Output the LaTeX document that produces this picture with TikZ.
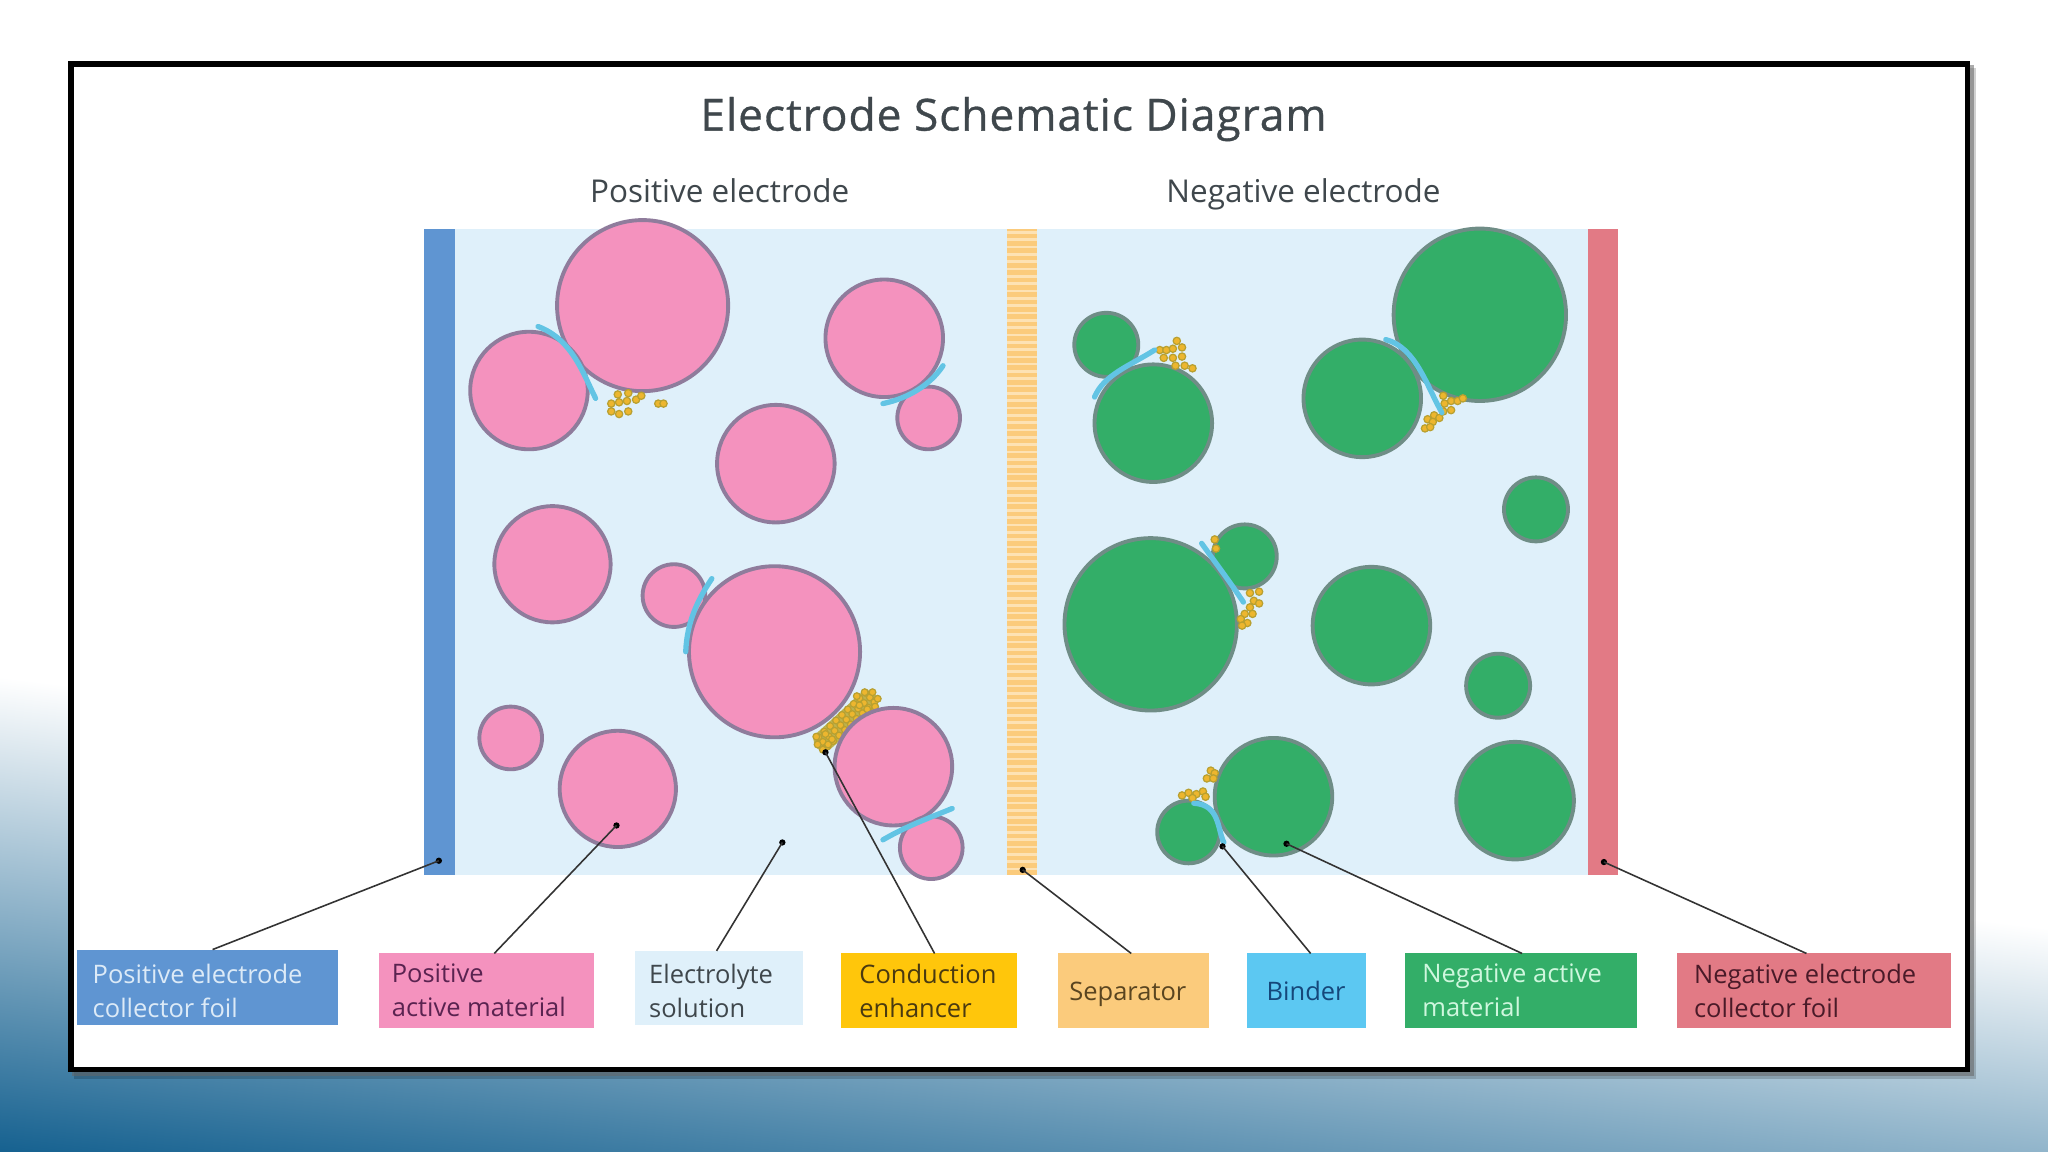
\documentclass[tikz,border=0pt]{standalone}
\usepackage{fontspec}
\setmainfont{Open Sans}
\newfontfamily\titlefont[LetterSpace=2.2,FakeBold=0.7]{Open Sans}
\definecolor{pinkfill}{HTML}{F492BE}
\definecolor{pinkedge}{HTML}{8F7C9C}
\definecolor{greenfill}{HTML}{33AE68}
\definecolor{greenedge}{HTML}{6F8D86}
\definecolor{bindercol}{HTML}{62C4E4}
\definecolor{goldfill}{HTML}{EDB62E}
\definecolor{goldedge}{HTML}{B8A030}
\definecolor{goldback}{HTML}{BDB24E}
\definecolor{liquid}{HTML}{DFF0FA}
\definecolor{sepcol}{HTML}{FBCB7C}
\definecolor{seppale}{HTML}{FDE2B4}
\definecolor{blueLab}{HTML}{5F95D2}
\definecolor{redLab}{HTML}{E27A85}
\definecolor{condLab}{HTML}{FFC60B}
\definecolor{bindLab}{HTML}{5CC8F2}
\definecolor{inkgray}{HTML}{3F474C}
\definecolor{deepblue}{HTML}{14608F}
\definecolor{midblue}{HTML}{85ACCA}
\definecolor{txBlue}{HTML}{DCEAF7}
\definecolor{txPink}{HTML}{5A2350}
\definecolor{txCondc}{HTML}{4A3A10}
\definecolor{txSepc}{HTML}{5A4520}
\definecolor{txBind}{HTML}{15477A}
\definecolor{txGreen}{HTML}{CFF7DE}
\definecolor{txRed}{HTML}{4A1A28}
\tikzset{
  pinkball/.style={draw=pinkedge,fill=pinkfill,line width=1.1pt},
  greenball/.style={draw=greenedge,fill=greenfill,line width=1.1pt},
  binderline/.style={draw=bindercol,line width=1.5pt,line cap=round},
  grain/.style={draw=goldedge,fill=goldfill,line width=0.35pt},
  leader/.style={draw=black!80,line width=0.45pt},
  dotmark/.style={fill=black,circle,inner sep=0pt,minimum size=1.8pt},
  lab/.style={anchor=north west,inner sep=0pt,outer sep=0pt,font=\fontsize{7.25}{9.6}\selectfont},
  header/.style={anchor=base,font=\fontsize{8.95}{10}\selectfont,text=inkgray},
}
\newcommand{\LabBox}[6]{% name, x0,y0,x1,y1, fill
  \node[anchor=north west,inner sep=0pt,outer sep=0pt,fill=#6,minimum width=#4*0.013061cm-#2*0.013061cm,minimum height=#5*0.013061cm-#3*0.013061cm] (#1) at (#2,#3) {};
}
\begin{document}
\begin{tikzpicture}[x=0.013061cm,y=-0.013061cm]
\useasboundingbox (0,0) rectangle (1568,882);
\fill[white] (0,0) rectangle (1568,882);
% background gradient
\begin{scope}
\clip (0,0) rectangle (1568,882);
\shade[transform canvas={rotate around={-7:(0,518)}},top color=white,middle color=midblue,bottom color=deepblue] (-200,518) rectangle (1800,882);
\end{scope}
% frame
\fill[black,opacity=.18] (57,52) rectangle (1513,826);
\fill[black!60,opacity=.55] (55,50) rectangle (1511,824);
\draw[black,line width=1.6pt,fill=white] (54.5,49) rectangle (1506.4,818.8);
% title
\node[anchor=base,font=\fontsize{12.6}{14}\selectfont\titlefont,text=inkgray] (title) at (776,100) {Electrode Schematic Diagram};
\node[header] (posHead) at (551,155) {Positive electrode};
\node[header] (negHead) at (998,155) {Negative electrode};
% cell
\fill[liquid] (348,175) rectangle (1216,670);
\fill[blueLab] (325,175) rectangle (348,670);
\fill[redLab] (1216,175) rectangle (1239,670);
\fill[sepcol] (771,175) rectangle (794,670);
\foreach \k in {0,...,87} \fill[seppale] (771,177+5.6*\k) rectangle (794,179+5.6*\k);
% enhancer squeezed between the two large positive particles
\draw[goldback,line width=6pt,line cap=round] (631,567) -- (664,537);
\foreach \i in {0,...,8} \foreach \j in {-1,0,1}
  \draw[grain] ({630+4.5*\i+3.4*\j},{568-4.25*\i+3.6*\j}) circle[radius=2.6];
\foreach \a/\b in {626/570,630/574,634/570,625/564,632/562,637/566,656/533,662/530,668/530,672/535,670/541,664/543,658/540}
  \draw[grain] (\a,\b) circle[radius=2.6];
% positive particles
\foreach \a/\b/\r in {492/234/65.5,405/299/45,677/259/45,711/320/24,594/355/45,423/432/44.5,516/456/24,593/499/65.5,684/587/45,713/649/24,391/565/24,473/604/44.5}
  \draw[pinkball] (\a,\b) circle[radius=\r];
% negative particles
\foreach \a/\b/\r in {1133/241/66,1043/305/45,847/264/24.5,883/324/45,1176/390/24.5,953/426/24.5,881/478/66,1050/479/45,1147/525/24.5,975/610/45,910/637/24,1160/613/45}
  \draw[greenball] (\a,\b) circle[radius=\r];
% other enhancer clusters
\foreach \a/\b in {473/302,481/301,468/309,474/308,480/307,487/306,491/303,468/315,474/317,481/315,504/309,508/309,
  888/268,893/268,901/261,898/267,905/266,891/274,898/274,905/273,900/280,907/280,913/282,
  1105/303,1106/309,1111/307,1116/307,1120/305,1111/314,1105/315,1098/318,1102/320,1093/321,1097/323,1091/328,1095/327,
  930/413,931/420,957/454,964/453,960/460,964/462,957/465,953/470,959/470,950/474,955/477,951/479,
  927/590,930/592,924/596,929/596,905/609,910/607,916/608,921/606,923/610,913/611}
  \draw[grain] (\a,\b) circle[radius=2.8];
% binder
\draw[binderline] (412,250) .. controls (438,260) and (446,285) .. (456,305);
\draw[binderline] (676,309) .. controls (695,305) and (712,295) .. (722,280);
\draw[binderline] (525,499) .. controls (526,475) and (535,458) .. (545,443);
\draw[binderline] (676,643) .. controls (695,632) and (712,626) .. (729,619);
\draw[binderline] (838,304) .. controls (845,287) and (865,280) .. (884,268);
\draw[binderline] (1061,260) .. controls (1084,266) and (1092,295) .. (1104,316);
\draw[binderline] (920,416) .. controls (930,430) and (942,446) .. (952,461);
\draw[binderline] (914,615) .. controls (934,616) and (932,635) .. (937,645);
% legend boxes
\LabBox{lbPosFoil}{59}{727}{259}{785}{blueLab}
\LabBox{lbPosMat}{290}{730}{455}{787}{pinkfill}
\LabBox{lbLiquid}{486}{728}{615}{785}{liquid}
\LabBox{lbCond}{644}{730}{779}{787}{condLab}
\LabBox{lbSep}{810}{730}{926}{787}{sepcol}
\LabBox{lbBinder}{955}{730}{1046}{787}{bindLab}
\LabBox{lbNegMat}{1076}{730}{1253}{787}{greenfill}
\LabBox{lbNegFoil}{1284}{730}{1494}{787}{redLab}
% legend text
\node[lab,text=txBlue,align=left] (txPosFoil) at (71,738) {Positive electrode\\collector foil};
\node[lab,text=txPink,align=left] (txPosMat) at (300,738) {Positive\\active material};
\node[lab,text=inkgray,align=left] (txLiquid) at (497,738) {Electrolyte\\solution};
\node[lab,text=txCondc,align=left] (txCond) at (658,738) {Conduction\\enhancer};
\node[font=\fontsize{7.25}{9.6}\selectfont,text=txSepc] (txSep) at (863.5,761) {Separator};
\node[font=\fontsize{7.25}{9.6}\selectfont,text=txBind] (txBinder) at (1000,759) {Binder};
\node[lab,text=txGreen,align=left] (txNegMat) at (1089,738) {Negative active\\material};
\node[lab,text=txRed,align=left] (txNegFoil) at (1297,738) {Negative electrode\\collector foil};
% leader ends
\node[dotmark] (dPosFoil) at (336,659) {};
\node[dotmark] (dPosMat) at (472,632) {};
\node[dotmark] (dLiquid) at (599,645) {};
\node[dotmark] (dCond) at (632,576) {};
\node[dotmark] (dSep) at (783,666) {};
\node[dotmark] (dBinder) at (936,648) {};
\node[dotmark] (dNegMat) at (985,646) {};
\node[dotmark] (dNegFoil) at (1228,660) {};
\draw[leader] (dPosFoil.center) -- ([xshift=1.4pt]lbPosFoil.north);
\draw[leader] (dPosMat.center) -- ([xshift=2.2pt]lbPosMat.north);
\draw[leader] (dLiquid.center) -- ([xshift=-.7pt]lbLiquid.north);
\draw[leader] (dCond.center) -- ([xshift=1.5pt]lbCond.north);
\draw[leader] (dSep.center) -- ([xshift=-.7pt]lbSep.north);
\draw[leader] (dBinder.center) -- ([xshift=1.1pt]lbBinder.north);
\draw[leader] (dNegMat.center) -- ([xshift=.3pt]lbNegMat.north);
\draw[leader] (dNegFoil.center) -- ([xshift=-2.2pt]lbNegFoil.north);
\end{tikzpicture}
\end{document}
